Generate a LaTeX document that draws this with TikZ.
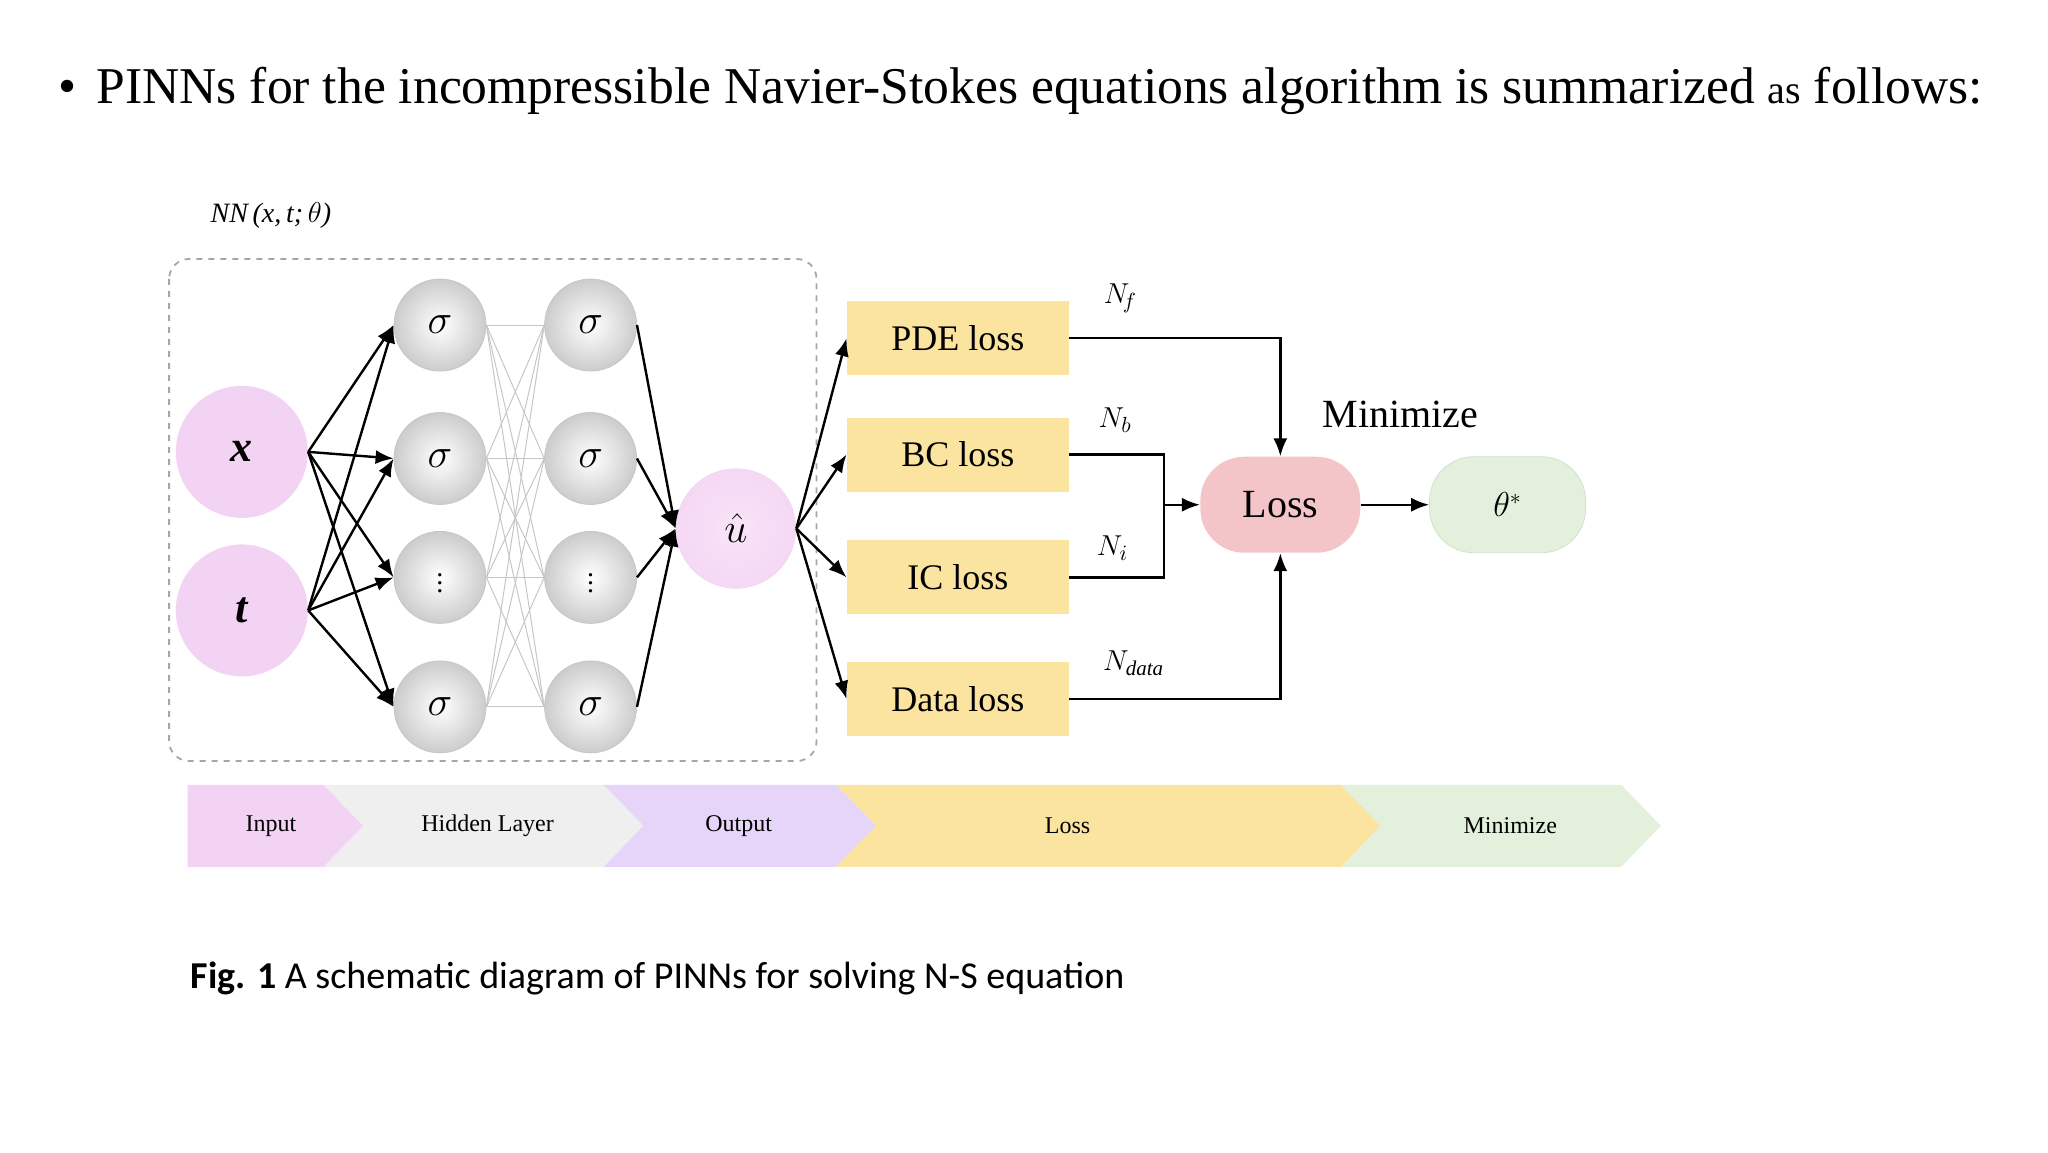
\documentclass[tikz,border=0pt]{standalone}
\usepackage{fontspec}
\setmainfont{Liberation Serif}
\newfontfamily\capfont{Carlito}
\usetikzlibrary{arrows.meta,shapes.geometric}
\definecolor{pinkc}{HTML}{F3D3F3}
\definecolor{lossy}{HTML}{FBE3A0}
\definecolor{losspk}{HTML}{F4C5C8}
\definecolor{thg}{HTML}{E3F0DC}
\definecolor{lav}{HTML}{E6D5F8}
\definecolor{rgray}{HTML}{EFEFEF}
\tikzset{
 inp/.style={circle,fill=pinkc,minimum size=66pt,inner sep=0pt,font=\fontsize{22}{22}\selectfont},
 hid/.style={circle,shading=radial,inner color=white,outer color=gray!40,draw=gray!45,minimum size=46pt,inner sep=0pt,font=\fontsize{22}{22}\selectfont},
 lbox/.style={rectangle,fill=lossy,minimum width=111pt,minimum height=37pt,font=\fontsize{18}{18}\selectfont},
 arr/.style={-{Latex[length=9pt,width=7pt]},line width=1.2pt},
 conn/.style={line width=1.2pt},
 wt/.style={gray!45,line width=0.5pt},
 nlab/.style={font=\fontsize{15}{15}\selectfont},
 rib/.style={font=\fontsize{12}{12}\selectfont}
}
\begin{document}
\begin{tikzpicture}[x=0.6607pt,y=-0.6607pt]
\useasboundingbox (0,0) rectangle (1550,872);
% title
\node[anchor=base west,inner sep=0pt,font=\fontsize{25.8}{26}\selectfont] (title) at (44,78) {\textbullet\hspace{10pt}PINNs for the incompressible Navier-Stokes equations algorithm is summarized {\fontsize{20}{20}\selectfont as} follows:};
\node[font=\itshape\fontsize{14}{14}\selectfont] (nnlab) at (205,163) {\textit{NN}\,(\textit{x},\,\textit{t};\,$\theta$)};
\draw[gray!70,dashed,line width=0.9pt,rounded corners=10pt] (128,196) rectangle (618,576);
% inputs
\node[inp] (x) at (183,342) {\textbf{\textit{x}}};
\node[inp] (t) at (183,462) {\textbf{\textit{t}}};
% hidden
\foreach \i/\y/\s in {1/246/\sigma,2/347/\sigma,4/535/\sigma}{
  \node[hid] (a\i) at (333,\y) {$\s$};
  \node[hid] (b\i) at (447,\y) {$\s$};
}
\node[hid,font=\fontsize{14}{14}\selectfont] (a3) at (333,437) {$\vdots$};
\node[hid,font=\fontsize{14}{14}\selectfont] (b3) at (447,437) {$\vdots$};
\node[inp,minimum size=60pt,shading=radial,inner color=pinkc!60,outer color=pinkc!100!black!90,draw=none] (u) at (557,400) {$\hat{u}$};
\foreach \i in {1,...,4}{\foreach \j in {1,...,4}{\draw[wt] (a\i.east) -- (b\j.west);}}
\foreach \i in {1,...,4}{
  \draw[arr] (x.east) -- (a\i.west);
  \draw[arr] (t.east) -- (a\i.west);
  \draw[arr] (b\i.east) -- (u.west);
}
% loss boxes
\node[lbox] (pde) at (725,256) {PDE loss};
\node[lbox] (bc) at (725,344) {BC loss};
\node[lbox] (ic) at (725,437) {IC loss};
\node[lbox] (data) at (725,529) {Data loss};
\foreach \n in {pde,bc,ic,data}{\draw[arr] (u.east) -- (\n.west);}
\node[rectangle,rounded corners=22pt,fill=losspk,minimum width=80pt,minimum height=48pt,font=\fontsize{20}{20}\selectfont] (loss) at (969,382) {Loss};
\node[rectangle,rounded corners=22pt,fill=thg,draw=green!25!gray!30,minimum width=78pt,minimum height=48pt,font=\fontsize{16}{16}\selectfont] (th) at (1141,382) {$\theta^{*}$};
\coordinate (j) at (881,382);
\draw[arr] (pde.east) -| (loss.north);
\draw[arr] (data.east) -| (loss.south);
\draw[conn] (bc.east) -| (j) |- (ic.east);
\draw[arr] (j) -- (loss.west);
\draw[arr] (loss.east) -- (th.west);
\node[nlab] (nf) at (848,226) {$N_{\!f}$};
\node[nlab] (nb) at (844,318) {$N_{b}$};
\node[nlab] (ni) at (842,415) {$N_{i}$};
\node[nlab] (nd) at (858,502) {$N_{\mathit{data}}$};
\node[font=\fontsize{20}{20}\selectfont] (minz) at (1060,314) {Minimize};
% ribbon
\fill[pinkc] (142,594) -- (245,594) -- (275,625) -- (245,656) -- (142,656) -- cycle;
\fill[rgray] (245,594) -- (457,594) -- (487,625) -- (457,656) -- (245,656) -- (275,625) -- cycle;
\fill[lav] (457,594) -- (633,594) -- (663,625) -- (633,656) -- (457,656) -- (487,625) -- cycle;
\fill[lossy] (633,594) -- (1015,594) -- (1045,625) -- (1015,656) -- (633,656) -- (663,625) -- cycle;
\fill[thg] (1015,594) -- (1227,594) -- (1257,625) -- (1227,656) -- (1015,656) -- (1045,625) -- cycle;
\node[rib] (r1) at (205,625) {Input};
\node[rib] (r2) at (369,625) {Hidden Layer};
\node[rib] (r3) at (559,625) {Output};
\node[rib] (r4) at (808,625) {Loss};
\node[rib] (r5) at (1143,625) {Minimize};
\node[anchor=base west,inner sep=0pt,font=\capfont\fontsize{19}{19}\selectfont] (cap) at (144,748) {\textbf{Fig. 1} A schematic diagram of PINNs for solving N-S equation};
\end{tikzpicture}
\end{document}
